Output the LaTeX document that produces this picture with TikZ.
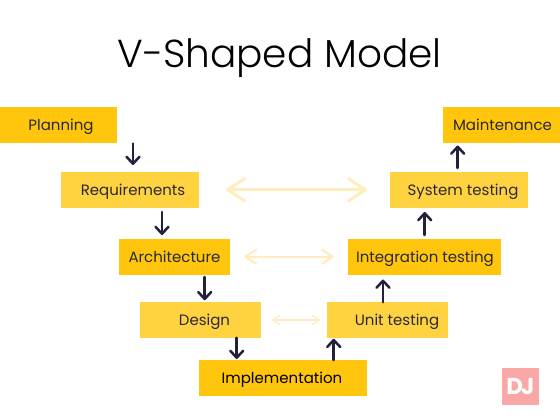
\documentclass[tikz,border=0pt]{standalone}
\usepackage{fontspec}
\setmainfont{Poppins}
\newfontfamily\titlefont{Poppins Light}
\usetikzlibrary{arrows.meta}
\definecolor{strongbox}{HTML}{FFC60D}
\definecolor{softbox}{HTML}{FFD23F}
\definecolor{inkflow}{HTML}{231F3D}
\definecolor{paleflow}{HTML}{FFEDBF}
\definecolor{inktext}{HTML}{2A2833}
\definecolor{badge}{HTML}{F9A8A6}
\tikzset{
  every node/.style={inner sep=0pt,outer sep=0pt},
  stagebox/.style={minimum height=35.5pt,text height=10.5pt,text depth=0pt,text=inktext,font=\fontsize{15}{16}\selectfont},
  strong/.style={stagebox,fill=strongbox},
  soft/.style={stagebox,fill=softbox},
  flow/.style={draw=inkflow,line width=2.5pt,line cap=round,-{Straight Barb[length=7pt,width=13pt,line width=2.5pt,round]}},
  pale/.style={draw=paleflow,{Straight Barb[round]}-{Straight Barb[round]}},
}
\begin{document}
\begin{tikzpicture}[x=1pt,y=-1pt]
\path[fill=white,use as bounding box] (0,0) rectangle (560,420);
\node[anchor=base,text=black,font=\titlefont\fontsize{39}{48}\selectfont] (title) at (279.5,68) {V-Shaped Model};
\node[strong,minimum width=117pt] (plan) at (58.5,124.75) {\hspace*{5pt}Planning};
\node[soft,minimum width=138pt] (req) at (130,189.75) {\hspace*{6pt}Requirements};
\node[strong,minimum width=111pt] (arch) at (174.5,256.75) {Architecture};
\node[soft,minimum width=121pt] (des) at (200.5,320) {\hspace*{8pt}Design};
\node[strong,minimum width=168pt,text=black] (impl) at (283,377.75) {Implementation\hspace*{2pt}};
\node[soft,minimum width=121pt] (unit) at (387.5,320) {\hspace*{19pt}Unit testing};
\node[strong,minimum width=153pt] (integ) at (424.5,256.75) {\hspace*{1pt}Integration testing};
\node[soft,minimum width=138pt] (sys) at (459,189.75) {\hspace*{8pt}System testing};
\node[strong,minimum width=117pt] (maint) at (501.5,124.75) {\hspace*{2pt}Maintenance};
\node[fill=badge,minimum size=37pt,text=white,font=\bfseries\fontsize{23}{23}\selectfont] (dj) at (520.5,386.5) {D\kern-2pt J};
% flow arrows
\draw[flow,shorten <=1pt,shorten >=7pt] ([xshift=74.5pt]plan.south) -- ([xshift=3pt]req.north);
\draw[flow,shorten <=4.5pt,shorten >=4pt] ([xshift=32pt]req.south) -- ([xshift=-12.5pt]arch.north);
\draw[flow,shorten <=2.5pt,shorten >=2pt] ([xshift=30.2pt]arch.south) -- ([xshift=4.2pt]des.north);
\draw[flow,shorten >=1pt] ([xshift=36.2pt]des.south) -- ([xshift=-46.3pt]impl.north);
\draw[flow,shorten >=1pt] ([xshift=50.7pt]impl.north) -- ([xshift=-53.8pt]unit.south);
\draw[flow,shorten >=5pt] ([xshift=-4.5pt]unit.north) -- ([xshift=-41.5pt]integ.south);
\draw[flow,shorten <=4pt,shorten >=4.5pt] ([xshift=.2pt]integ.north) -- ([xshift=-34.3pt]sys.south);
\draw[flow,shorten <=4pt,shorten >=3pt] ([xshift=-1.3pt]sys.north) -- ([xshift=-43.8pt]maint.south);
% correspondence arrows
\draw[pale,line width=3pt,{Straight Barb[round,length=17pt,width=22pt,line width=3pt]}-{Straight Barb[round,length=17pt,width=22pt,line width=3pt]},shorten <=27pt,shorten >=23pt] (req.east) -- (sys.west);
\draw[pale,line width=2.2pt,{Straight Barb[round,length=11pt,width=14pt,line width=2.2pt]}-{Straight Barb[round,length=11pt,width=14pt,line width=2.2pt]},shorten <=14pt,shorten >=14pt] (arch.east) -- (integ.west);
\draw[pale,line width=1.4pt,{Straight Barb[round,length=7pt,width=9pt,line width=1.4pt]}-{Straight Barb[round,length=7pt,width=9pt,line width=1.4pt]},shorten <=11pt,shorten >=7pt] (des.east) -- (unit.west);
\end{tikzpicture}
\end{document}
